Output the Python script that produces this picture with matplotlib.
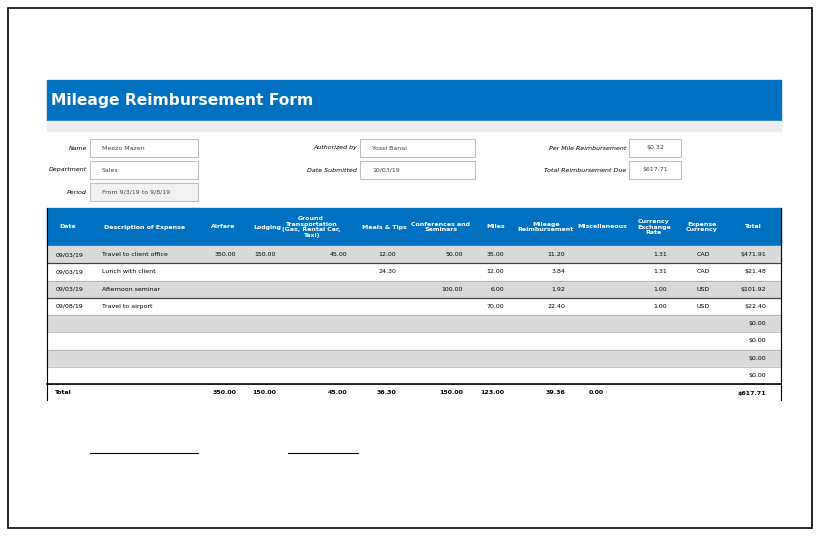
import matplotlib.pyplot as plt
from matplotlib.patches import Rectangle

BLUE = '#0070C0'

# form fields
left_labels = ['Name', 'Department', 'Period']
left_values = ['Meezo Mazen', 'Sales', 'From 9/3/19 to 9/8/19']
mid_labels = ['Authorized by', 'Date Submitted']
mid_values = ['Yossi Banai', '10/03/19']
right_labels = ['Per Mile Reimbursement', 'Total Reimbursement Due']
right_values = ['$0.32', '$617.71']

# table
headers = ['Date', 'Description of Expense', 'Airfare', 'Lodging',
           'Ground\nTransportation\n(Gas, Rental Car,\nTaxi)', 'Meals & Tips',
           'Conferences and\nSeminars', 'Miles', 'Mileage\nReimbursement',
           'Miscellaneous', 'Currency\nExchange\nRate', 'Expense\nCurrency', 'Total']
dates = ['09/03/19', '09/03/19', '09/03/19', '09/08/19', '', '', '', '']
descriptions = ['Travel to client office', 'Lunch with client', 'Afternoon seminar',
                'Travel to airport', '', '', '', '']
airfare = ['350.00', '', '', '']
lodging = ['150.00', '', '', '']
ground = ['45.00', '', '', '']
meals = ['12.00', '24.30', '', '']
conferences = ['50.00', '', '100.00', '']
miles = ['35.00', '12.00', '6.00', '70.00']
mileage = ['11.20', '3.84', '1.92', '22.40']
rates = ['1.31', '1.31', '1.00', '1.00']
currencies = ['CAD', 'CAD', 'USD', 'USD']
totals = ['$471.91', '$21.48', '$101.92', '$22.40', '$0.00', '$0.00', '$0.00', '$0.00']
total_row = ['Total', '', '350.00', '150.00', '45.00', '36.30', '150.00', '123.00',
             '39.36', '0.00', '', '', '$617.71']

# column centres and value anchors (x, alignment)
col_x = [68, 145, 223, 267, 311, 384, 441, 496, 546, 602, 654, 702, 752]
val_pos = {'airfare': (236, 'right'), 'lodging': (276, 'right'), 'ground': (347, 'right'),
           'meals': (396, 'right'), 'conf': (463, 'right'), 'miles': (504, 'right'),
           'mileage': (565, 'right'), 'rate': (667, 'right'), 'cur': (703, 'center'),
           'total': (766, 'right')}

fig = plt.figure(figsize=(8.2, 5.36), dpi=100)
ax = fig.add_axes([0, 0, 1, 1])
ax.set_xlim(0, 820)
ax.set_ylim(536, 0)
ax.axis('off')

ax.add_patch(Rectangle((8, 8), 804, 520, fill=False, ec='black', lw=1.2))

# title band
ax.add_patch(Rectangle((47, 80), 734, 41, color=BLUE))
ax.add_patch(Rectangle((47, 121), 734, 10, color='#EDEDED'))
ax.text(51, 101, 'Mileage Reimbursement Form', color='white', fontsize=11.2,
        fontweight='bold', va='center', ha='left')

fs = 4.5


def field(lx, label, bx, bw, y, value, grey=False, center=False):
    ax.text(lx, y, label, ha='right', va='center', fontsize=fs, style='italic')
    ax.add_patch(Rectangle((bx, y - 9), bw, 18, fc='#F2F2F2' if grey else 'white',
                           ec='#BFBFBF', lw=0.8))
    ax.text(bx + bw / 2 if center else bx + 12, y, value, fontsize=fs, va='center',
            ha='center' if center else 'left', color='#404040')


for i, (lab, val) in enumerate(zip(left_labels, left_values)):
    field(87, lab, 90, 108, 148 + i * 22, val, grey=(i == 2))
for i, (lab, val) in enumerate(zip(mid_labels, mid_values)):
    field(357, lab, 360, 115, 148 + i * 22, val)
for i, (lab, val) in enumerate(zip(right_labels, right_values)):
    field(626, lab, 629, 52, 148 + i * 22, val, center=True)

# table header
ax.add_patch(Rectangle((47, 208), 734, 38, color=BLUE))
for x, h in zip(col_x, headers):
    ax.text(x, 227, h, color='white', fontsize=fs, fontweight='bold',
            ha='center', va='center', linespacing=1.1)

row_h = 17.25
y0 = 246
for r in range(8):
    top = y0 + r * row_h
    ax.add_patch(Rectangle((47, top), 734, row_h,
                           color='#D9D9D9' if r % 2 == 0 else 'white'))
    ax.plot([47, 781], [top + row_h] * 2, color='#404040' if r in (0, 2) else '#A6A6A6',
            lw=0.9 if r in (0, 2) else 0.5)
    yc = top + row_h / 2
    ax.text(col_x[0] + 2, yc, dates[r], fontsize=fs, ha='center', va='center')
    ax.text(102, yc, descriptions[r], fontsize=fs, ha='left', va='center')
    x, a = val_pos['total']
    ax.text(x, yc, totals[r], fontsize=fs, ha=a, va='center')
    if r < 4:
        for key, arr in [('airfare', airfare), ('lodging', lodging), ('ground', ground),
                         ('meals', meals), ('conf', conferences), ('miles', miles),
                         ('mileage', mileage), ('rate', rates), ('cur', currencies)]:
            x, a = val_pos[key]
            ax.text(x, yc, arr[r], fontsize=fs, ha=a, va='center')

# total row
ty = y0 + 8 * row_h
ax.plot([47, 781], [ty, ty], color='black', lw=1.2)
ax.plot([47, 47], [208, ty + 16], color='black', lw=0.8)
ax.plot([781, 781], [208, ty + 16], color='black', lw=0.8)
tcx = [62, 145, 236, 276, 347, 396, 463, 504, 565, 604, 667, 703, 766]
tha = ['center', 'center'] + ['right'] * 7 + ['right', 'right', 'center', 'right']
for x, a, v in zip(tcx, tha, total_row):
    ax.text(x, ty + 9, v, fontsize=fs, ha=a, va='center', fontweight='bold')

# signature lines
ax.plot([90, 198], [453, 453], color='black', lw=0.8)
ax.plot([288, 358], [453, 453], color='black', lw=0.8)

fig.savefig('out.png', dpi=100)
